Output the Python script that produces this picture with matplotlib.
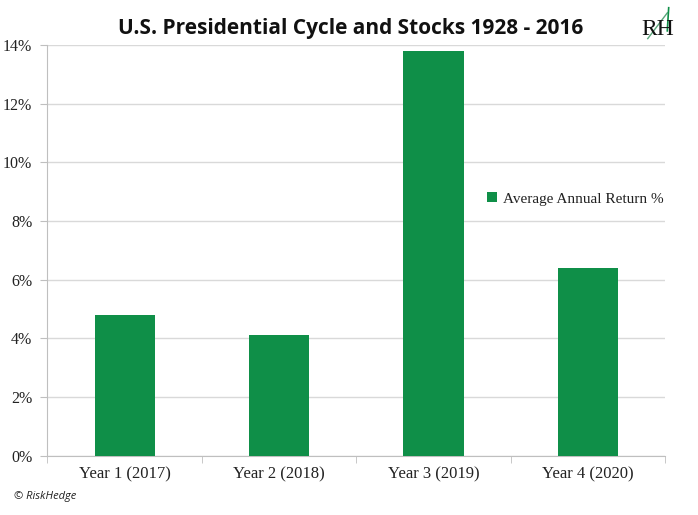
import matplotlib.pyplot as plt
import numpy as np

# data
categories = ['Year 1 (2017)', 'Year 2 (2018)', 'Year 3 (2019)', 'Year 4 (2020)']
returns = [4.8, 4.1, 13.8, 6.4]
y_ticks = [0, 2, 4, 6, 8, 10, 12, 14]

green = '#0f8f48'
grid_col = '#d9d9d9'
serif = 'Liberation Serif'

fig = plt.figure(figsize=(6.98, 5.15), dpi=100)
ax = fig.add_axes([0.068, 0.115, 0.885, 0.798])

x = np.arange(len(categories))
ax.bar(x, returns, width=0.39, color=green, label='Average Annual Return %', zorder=3)

ax.set_xlim(-0.5, len(categories) - 0.5)
ax.set_ylim(0, 14)
ax.set_yticks(y_ticks)
ax.set_yticklabels([f'{v}%' for v in y_ticks], fontfamily=serif, fontsize=11.5, color='#222222')
ax.yaxis.grid(True, color=grid_col, linewidth=1, zorder=0)

# category labels between boundary ticks
ax.set_xticks(x)
ax.set_xticklabels(categories, fontfamily=serif, fontsize=12, color='#222222')
ax.tick_params(axis='x', length=0, pad=8)
ax.set_xticks(np.arange(len(categories) + 1) - 0.5, minor=True)
ax.tick_params(axis='x', which='minor', length=5, color='#bfbfbf')
ax.tick_params(axis='y', length=5, color='#bfbfbf', pad=6)

for s in ['top', 'right']:
    ax.spines[s].set_visible(False)
for s in ['left', 'bottom']:
    ax.spines[s].set_color('#bfbfbf')

leg = ax.legend(loc='center left', bbox_to_anchor=(0.69, 0.625), frameon=False,
                handlelength=0.6, handleheight=0.6, handletextpad=0.4,
                prop={'family': serif, 'size': 11})
for t in leg.get_texts():
    t.set_color('#222222')

fig.text(0.502, 0.945, 'U.S. Presidential Cycle and Stocks 1928 - 2016',
         ha='center', va='center', fontsize=15, fontweight='bold',
         fontfamily='Open Sans', color='#111111')

# logo
fig.text(0.943, 0.943, 'RH', ha='center', va='center', fontsize=17,
         fontfamily=serif, color='#111111')
fig.add_artist(plt.Line2D([0.928, 0.956], [0.925, 0.975], color='#5aa67a', lw=1,
                          transform=fig.transFigure))
fig.add_artist(plt.Line2D([0.956, 0.958], [0.94, 0.985], color=green, lw=1.2,
                          transform=fig.transFigure))

fig.text(0.02, 0.035, '© RiskHedge', ha='left', va='center', fontsize=8,
         fontstyle='italic', fontfamily='Open Sans', color='#222222')

fig.savefig('out.png', dpi=100)
